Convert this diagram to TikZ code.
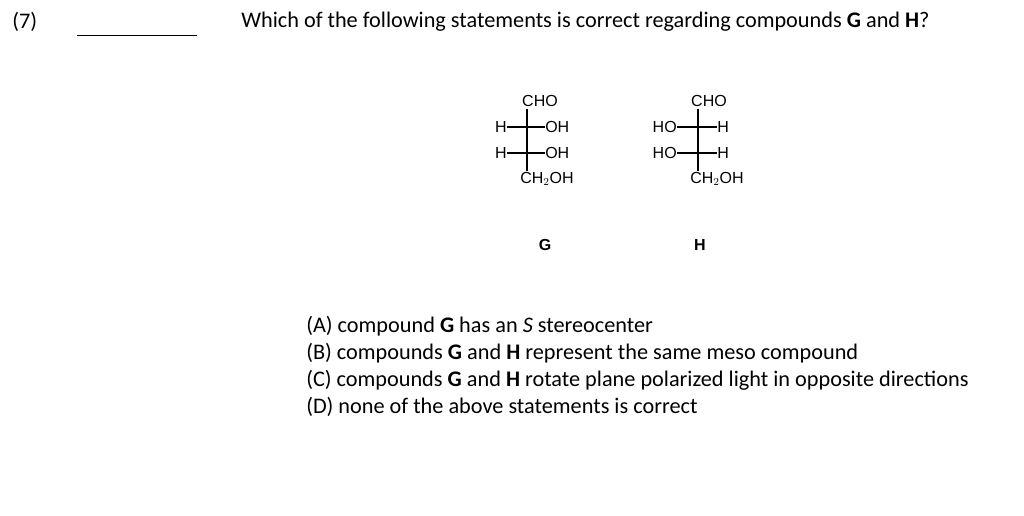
\documentclass[tikz,border=0pt]{standalone}
\usepackage{fontspec}
\setmainfont{Carlito}
\newfontfamily\arial{Liberation Sans}
\begin{document}
\begin{tikzpicture}[x=0.75pt,y=-0.75pt,
  txt/.style={font=\fontsize{16.7}{20}\selectfont, inner sep=0pt, anchor=west},
  chem/.style={font=\arial\fontsize{12}{14}\selectfont, inner sep=0pt},
  bond/.style={line width=0.8pt}]
\useasboundingbox (0,0) rectangle (1024,516);
\node[txt] (num) at (12,22) {(7)};
\draw[line width=0.6pt] (77,35) coordinate (b1) -- (197,35) coordinate (b2);
\node[txt] (q) at (241,22) {Which of the following statements is correct regarding compounds \textbf{G} and \textbf{H}?};
% G
\node[chem] (gc) at (540,101) {CHO};
\node[chem,anchor=east] (gh1) at (507,127) {H};
\node[chem,anchor=west] (go1) at (545,127) {OH};
\node[chem,anchor=east] (gh2) at (507,153) {H};
\node[chem,anchor=west] (go2) at (545,153) {OH};
\node[chem,anchor=west] (gb) at (520,179) {CH$_2$OH};
\coordinate (gt) at (527,109); \coordinate (gbt) at (527,171);
\draw[bond] (gt) -- (gbt);
\draw[bond] (gh1.east) -- (go1.west);
\draw[bond] (gh2.east) -- (go2.west);
% H
\node[chem] (hc) at (709,101) {CHO};
\node[chem,anchor=east] (ho1) at (677,127) {HO};
\node[chem,anchor=west] (hh1) at (717,127) {H};
\node[chem,anchor=east] (ho2) at (677,153) {HO};
\node[chem,anchor=west] (hh2) at (717,153) {H};
\node[chem,anchor=west] (hb) at (690,179) {CH$_2$OH};
\coordinate (ht) at (698,109); \coordinate (hbt) at (698,171);
\draw[bond] (ht) -- (hbt);
\draw[bond] (ho1.east) -- (hh1.west);
\draw[bond] (ho2.east) -- (hh2.west);
\node[chem,font=\arial\bfseries\fontsize{12}{14}\selectfont] (lg) at (545,245) {G};
\node[chem,font=\arial\bfseries\fontsize{12}{14}\selectfont] (lh) at (700,245) {H};
% options
\node[txt] (oa) at (306,326) {(A) compound \textbf{G} has an \textit{S} stereocenter};
\node[txt] (ob) at (306,353) {(B) compounds \textbf{G} and \textbf{H} represent the same meso compound};
\node[txt] (oc) at (306,380) {(C) compounds \textbf{G} and \textbf{H} rotate plane polarized light in opposite directions};
\node[txt] (od) at (306,407) {(D) none of the above statements is correct};
\end{tikzpicture}
\end{document}
